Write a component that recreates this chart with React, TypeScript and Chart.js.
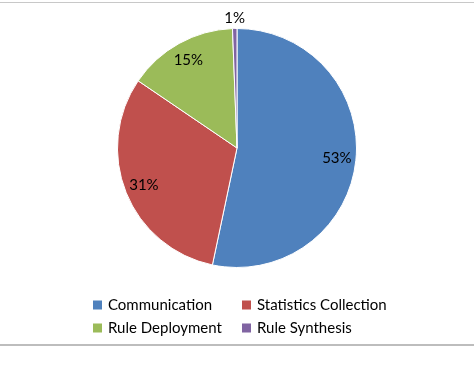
import React, { useEffect, useRef } from "react";
import { Chart, registerables } from "chart.js";

Chart.register(...registerables);

const categories = ["Communication", "Statistics Collection", "Rule Deployment", "Rule Synthesis"];
const shares = [53.3, 31.2, 14.9, 0.6];
const colors = ["#4F81BD", "#C0504D", "#9BBB59", "#8064A2"];

const FONT = "Lato, 'Open Sans', sans-serif";

const framePlugin = {
  id: "frame",
  beforeDraw(chart: any) {
    const ctx = chart.ctx;
    const w = chart.width;
    ctx.save();
    ctx.strokeStyle = "#c8c8c8";
    ctx.lineWidth = 1;
    ctx.beginPath();
    ctx.moveTo(0, 2.5);
    ctx.lineTo(w, 2.5);
    ctx.stroke();
    ctx.strokeStyle = "#bdbdbd";
    ctx.lineWidth = 2;
    ctx.beginPath();
    ctx.moveTo(0, 345);
    ctx.lineTo(w, 345);
    ctx.stroke();
    ctx.restore();
  },
};

const labelPlugin = {
  id: "sliceLabels",
  afterDatasetsDraw(chart: any) {
    const ctx = chart.ctx;
    const meta = chart.getDatasetMeta(0);
    const data = chart.data.datasets[0].data as number[];
    const total = data.reduce((a, b) => a + b, 0);
    ctx.save();
    ctx.font = `15px ${FONT}`;
    ctx.fillStyle = "#000";
    ctx.textAlign = "center";
    ctx.textBaseline = "middle";
    meta.data.forEach((arc: any, i: number) => {
      const p = arc.getProps(["x", "y", "startAngle", "endAngle", "outerRadius"], true);
      const mid = (p.startAngle + p.endAngle) / 2;
      const pct = (data[i] / total) * 100;
      const r = pct < 3 ? p.outerRadius * 1.09 : p.outerRadius * 0.84;
      const x = p.x + Math.cos(mid) * r;
      const y = p.y + Math.sin(mid) * r;
      ctx.fillText(`${Math.round(pct)}%`, x, y);
    });
    ctx.restore();
  },
};

const legendPlugin = {
  id: "gridLegend",
  afterDraw(chart: any) {
    const ctx = chart.ctx;
    const colX = [93, 242];
    const rowY = [305, 328];
    ctx.save();
    ctx.font = `15px ${FONT}`;
    ctx.textBaseline = "middle";
    ctx.textAlign = "left";
    categories.forEach((name, i) => {
      const x = colX[i % 2];
      const y = rowY[Math.floor(i / 2)];
      ctx.fillStyle = colors[i];
      ctx.fillRect(x, y - 4.5, 9, 9);
      ctx.fillStyle = "#000";
      ctx.fillText(name, x + 15, y);
    });
    ctx.restore();
  },
};

export default function App() {
  const ref = useRef<HTMLCanvasElement>(null);
  useEffect(() => {
    if (!ref.current) return;
    const chart = new Chart(ref.current, {
      type: "pie",
      data: {
        labels: categories,
        datasets: [
          {
            data: shares,
            backgroundColor: colors,
            borderColor: "#ffffff",
            borderWidth: 1,
          },
        ],
      },
      options: {
        animation: false,
        responsive: true,
        maintainAspectRatio: false,
        layout: { padding: { top: 28, bottom: 104, left: 117, right: 117 } },
        plugins: {
          legend: { display: false },
          tooltip: { enabled: false },
        },
      },
      plugins: [framePlugin, labelPlugin, legendPlugin],
    });
    return () => chart.destroy();
  }, []);
  return (
    <div style={{ position: "fixed", left: 0, top: 0, width: 474, height: 372, background: "#fff" }}>
      <canvas ref={ref} />
    </div>
  );
}
